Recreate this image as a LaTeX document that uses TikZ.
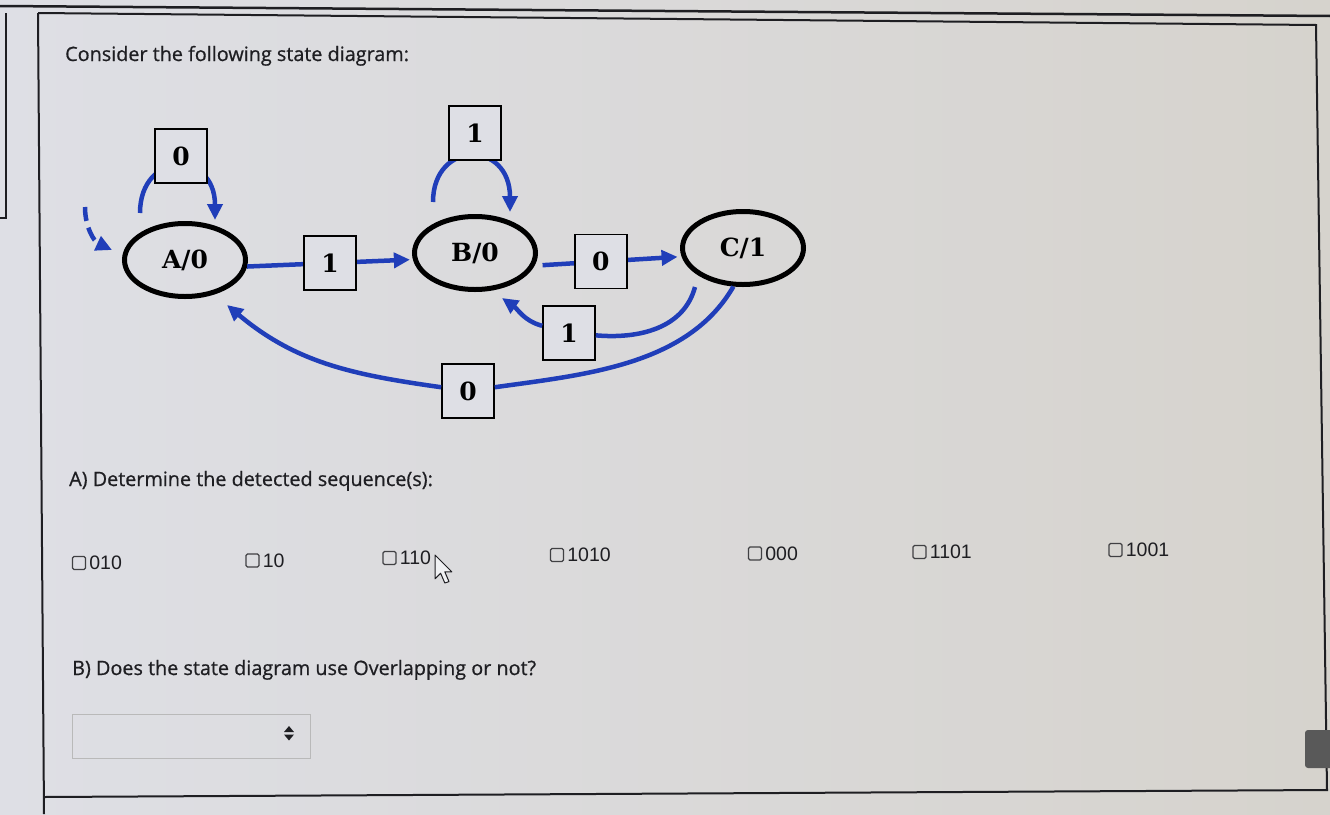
\documentclass[tikz,border=0pt]{standalone}
\usepackage{fontspec}
\setmainfont{Open Sans}[FakeBold=0.7]
\newfontfamily\statefont{DejaVu Serif}
\newfontfamily\optfont{Liberation Sans}
\usetikzlibrary{arrows.meta,positioning,shapes.geometric}
\definecolor{bgl}{RGB}{222,223,229}
\definecolor{bgr}{RGB}{214,211,205}
\definecolor{lineblue}{RGB}{32,62,185}
\definecolor{ink}{RGB}{30,30,34}
\tikzset{%
	state/.style    = {draw=black, ellipse, line width=5pt, minimum width=121pt, minimum height=73pt, inner sep=0pt, font=\statefont\bfseries\fontsize{25}{28}\selectfont},
	lbl/.style      = {draw=black, rectangle, line width=1.6pt, fill=bgl, minimum width=52pt, minimum height=54pt, inner sep=0pt, font=\statefont\bfseries\fontsize{25}{28}\selectfont},
	trans/.style    = {draw=lineblue, line width=4.5pt},
	arrow/.style    = {trans, -{Triangle[length=16pt,width=15pt]}},
	question/.style = {anchor=base west, text=ink, inner sep=0pt, font=\fontsize{19.8}{23}\selectfont},
	chkbox/.style   = {draw=ink!85, rounded corners=1.5pt, line width=1.3pt, minimum width=13pt, minimum height=13pt, inner sep=0pt},
	option/.style   = {text=ink, inner sep=0pt, font=\optfont\fontsize{19.5}{22}\selectfont},
}

\begin{document}
\begin{tikzpicture}[x=1pt,y=1pt]
	\useasboundingbox (0,0) rectangle (1330,-814);
	\shade[left color=bgl, right color=bgr] (0,0) rectangle (1330,-814);
	% page frame
	\draw[ink, line width=2.5pt] (0,-6) -- (1330,-16);
	\draw[ink, line width=2pt] (6,-13) -- (6,-218) -- (0,-218);
	\draw[ink, line width=2pt] (38,-13) -- (44,-814);
	\draw[ink, line width=2pt] (38,-13) -- (1316,-25) -- (1327,-790) -- (44,-797);
	\fill[gray!70!black, rounded corners=3pt] (1305,-730) rectangle (1340,-768);

	\node[question] (title) at (65,-61) {Consider the following state diagram:};

	% states
	\node[state] (a) at (185,-260) {A/0};
	\node[state] (b) [right of=a, node distance=290pt, yshift=7pt] {B/0};
	\node[state] (c) [right of=b, node distance=268pt, yshift=5pt] {C/1};
	\node[lbl] (lcb) at (569,-333) {1};
	\node[lbl] (lca) at (468,-391) {0};

	% transitions
	\coordinate (init) at (85,-207);
	\draw[arrow, dash pattern=on 14pt off 7pt] (init) to[out=-90, in=155] ([shift={(-73,10)}]a.center);
	\draw[arrow] ([shift={(-45,47)}]a.center) .. controls +(0,62) and +(0,70) .. ([shift={(30,40)}]a.center) node[lbl, midway, xshift=3.5pt, yshift=11pt] {0};
	\draw[arrow] ([shift={(-42,51)}]b.center) .. controls +(0,62) and +(0,72) .. ([shift={(35,41)}]b.center) node[lbl, midway, xshift=3.5pt, yshift=24pt] {1};
	\draw[arrow, shorten >=3pt] (a.-6) -- node[lbl] {1} (b.186);
	\draw[arrow, shorten <=8pt, shorten >=4pt] (b.-12) -- node[lbl, pos=0.45] {0} (c.188);
	\draw[trans] ([shift={(-48,-39)}]c.center) to[out=-105, in=-5] (lcb);
	\draw[arrow] (lcb) to[out=165, in=-35] ([shift={(27,-45)}]b.center);
	\draw[trans] (c.256) to[out=-120, in=8, looseness=0.9] (lca);
	\draw[arrow] (lca) to[out=172, in=-40] ([shift={(42,-45)}]a.center);

	\node[question] (qa) at (69,-486) {A) Determine the detected sequence(s):};

	% answer options
	\node[chkbox] (k1) at (79,-563) {};
	\node[option, right=3pt of k1] (o1) {010};
	\node[chkbox] (k2) at (252.5,-560.5) {};
	\node[option, right=3pt of k2] (o2) {10};
	\node[chkbox] (k3) at (389.5,-558) {};
	\node[option, right=3pt of k3] (o3) {110};
	\node[chkbox] (k4) at (557,-555) {};
	\node[option, right=3pt of k4] (o4) {1010};
	\node[chkbox] (k5) at (755,-553.5) {};
	\node[option, right=3pt of k5] (o5) {000};
	\node[chkbox] (k6) at (919.5,-552) {};
	\node[option, right=3pt of k6] (o6) {1101};
	\node[chkbox] (k7) at (1115.5,-550) {};
	\node[option, right=3pt of k7] (o7) {1001};
	% mouse pointer
	\draw[ink, fill=white!55!bgl, line width=1pt, line join=round] (435,-555) -- ++(0,-23.8) -- ++(5.6,5.6) -- ++(4.2,-9.8) -- ++(4.2,1.4) -- ++(-4.2,9.8) -- ++(7,0) -- cycle;

	\node[question] (qb) at (72,-675) {B) Does the state diagram use Overlapping or not?};

	% select box
	\node[draw=gray!55, line width=1pt, minimum width=238pt, minimum height=44pt, anchor=north west, inner sep=0pt] (sel) at (72,-714) {};
	\fill[ink] (284,-732) -- (294,-732) -- (289,-726) -- cycle;
	\fill[ink] (284,-734.5) -- (294,-734.5) -- (289,-740.5) -- cycle;
\end{tikzpicture}
\end{document}
